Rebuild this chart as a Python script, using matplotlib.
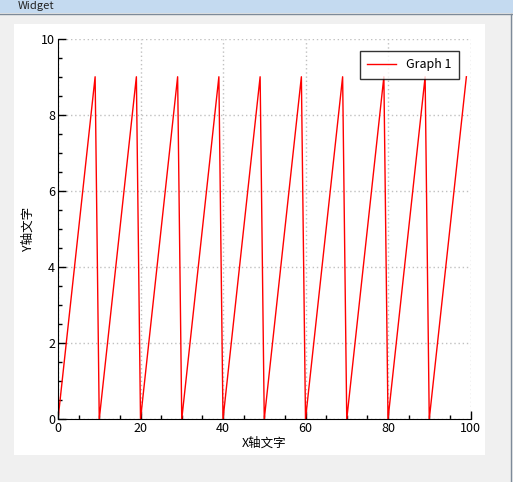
import matplotlib
matplotlib.use('Agg')
import matplotlib.pyplot as plt
from matplotlib.patches import Rectangle
from matplotlib.ticker import MultipleLocator

plt.rcParams['font.family'] = ['Noto Sans CJK SC', 'DejaVu Sans']

# sawtooth data
x_vals = list(range(100))
y_vals = [0, 1, 2, 3, 4, 5, 6, 7, 8, 9,
          0, 1, 2, 3, 4, 5, 6, 7, 8, 9,
          0, 1, 2, 3, 4, 5, 6, 7, 8, 9,
          0, 1, 2, 3, 4, 5, 6, 7, 8, 9,
          0, 1, 2, 3, 4, 5, 6, 7, 8, 9,
          0, 1, 2, 3, 4, 5, 6, 7, 8, 9,
          0, 1, 2, 3, 4, 5, 6, 7, 8, 9,
          0, 1, 2, 3, 4, 5, 6, 7, 8, 9,
          0, 1, 2, 3, 4, 5, 6, 7, 8, 9,
          0, 1, 2, 3, 4, 5, 6, 7, 8, 9]
series_name = 'Graph 1'
x_label = 'X轴文字'
y_label = 'Y轴文字'

W, H = 513, 482
fig = plt.figure(figsize=(W / 100, H / 100), dpi=100)
fig.patch.set_facecolor('#f0f0f0')

# window title bar (cut off at top of the screenshot)
fig.patches.append(Rectangle((0, 1 - 13 / H), 1, 13 / H, transform=fig.transFigure,
                             facecolor='#c4daf0', edgecolor='none', zorder=-2))
fig.text(18 / W, 1 - 1 / H, 'Widget', fontsize=8, va='top', ha='left', color='#222222')
fig.lines.append(plt.Line2D([0, 1], [1 - 13.5 / H, 1 - 13.5 / H], transform=fig.transFigure,
                            color='#7d8a99', lw=1))
fig.lines.append(plt.Line2D([1 - 2.5 / W, 1 - 2.5 / W], [0, 1 - 13.5 / H], transform=fig.transFigure,
                            color='#7d8a99', lw=1))

# white plot panel
fig.patches.append(Rectangle((14 / W, 1 - 455 / H), 471 / W, 431 / H, transform=fig.transFigure,
                             facecolor='white', edgecolor='none', zorder=-2))

ax = fig.add_axes([58 / W, 1 - 419.3 / H, 412.5 / W, 380.6 / H])
ax.set_facecolor('none')
ax.plot(x_vals, y_vals, color='red', lw=1, label=series_name)

ax.set_xlim(0, 100)
ax.set_ylim(0, 10)
ax.xaxis.set_major_locator(MultipleLocator(20))
ax.xaxis.set_minor_locator(MultipleLocator(5))
ax.yaxis.set_major_locator(MultipleLocator(2))
ax.yaxis.set_minor_locator(MultipleLocator(0.5))
ax.tick_params(which='major', direction='in', length=6, width=1, labelsize=9, pad=2)
ax.tick_params(which='minor', direction='in', length=3, width=1)
ax.spines['top'].set_visible(False)
ax.spines['right'].set_visible(False)
ax.grid(True, which='major', color='#c0c0c0', linestyle=(0, (1, 2)), lw=1)
ax.set_axisbelow(True)

ax.set_xlabel(x_label, fontsize=9, labelpad=1)
ax.set_ylabel(y_label, fontsize=9, labelpad=5)

leg = ax.legend(loc='upper right', bbox_to_anchor=(0.972, 0.968), fontsize=9,
                frameon=True, fancybox=False, handlelength=2.3, borderpad=0.6,
                borderaxespad=0)
leg.get_frame().set_edgecolor('black')
leg.get_frame().set_linewidth(1)

fig.savefig('out.png', dpi=100)
